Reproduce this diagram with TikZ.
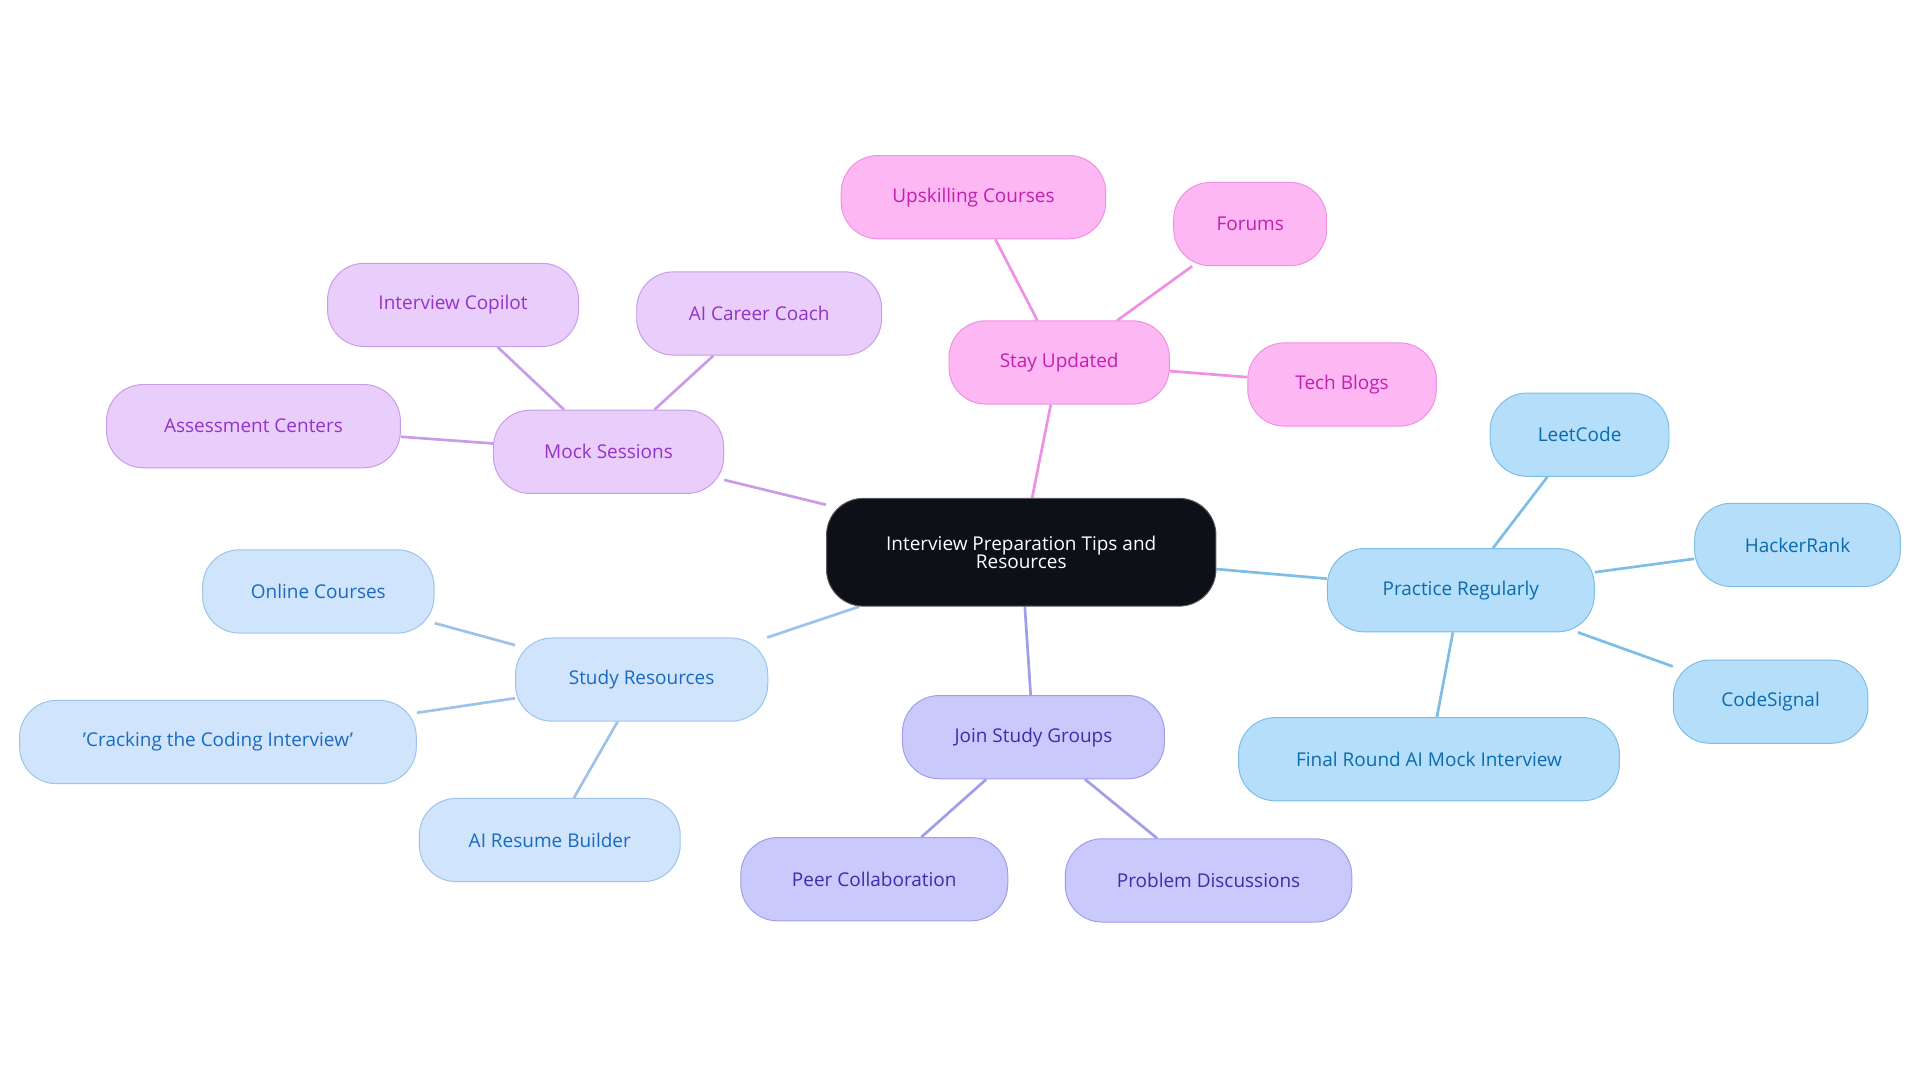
\documentclass[tikz,border=0pt]{standalone}
\usepackage{fontspec}
\setmainfont{Open Sans}
\usetikzlibrary{backgrounds}
\definecolor{pkF}{HTML}{FDB7F3}\definecolor{pkT}{HTML}{C21FB0}\definecolor{pkL}{HTML}{EE90E4}
\definecolor{puF}{HTML}{E9CDFA}\definecolor{puT}{HTML}{9333C9}\definecolor{puL}{HTML}{C99CE8}
\definecolor{blF}{HTML}{B5DEFA}\definecolor{blT}{HTML}{0A6BAF}\definecolor{blL}{HTML}{7DBDE6}
\definecolor{lbF}{HTML}{D0E4FB}\definecolor{lbT}{HTML}{1A6AC2}\definecolor{lbL}{HTML}{9EC3EA}
\definecolor{inF}{HTML}{C9C9FC}\definecolor{inT}{HTML}{3A2FAA}\definecolor{inL}{HTML}{9E9EEA}
\definecolor{ctr}{HTML}{0D1117}
\begin{document}
\begin{tikzpicture}[x=1pt,y=-1pt,
 box/.style={rounded corners=30pt,minimum height=68pt,inner sep=0pt,font=\fontsize{15.5}{18}\selectfont,line width=0.8pt},
 pk/.style={box,fill=pkF,draw=pkL,text=pkT},
 pu/.style={box,fill=puF,draw=puL,text=puT},
 bl/.style={box,fill=blF,draw=blL,text=blT},
 lb/.style={box,fill=lbF,draw=lbL,text=lbT},
 ig/.style={box,fill=inF,draw=inL,text=inT},
 e/.style={line width=2.2pt}]
\useasboundingbox (0,0) rectangle (1568,884);
\node[box,fill=ctr,draw=ctr!70,text=white,minimum width=318pt,minimum height=88pt,align=center] (c) at (834,451) {Interview Preparation Tips and\\[-3pt]Resources};
\node[pk,minimum width=180pt] (su) at (865,296) {Stay Updated};
\node[pk,minimum width=216pt] (uc) at (795,161) {Upskilling Courses};
\node[pk,minimum width=125pt] (fo) at (1021,183) {Forums};
\node[pk,minimum width=154pt] (tb) at (1096,314) {Tech Blogs};
\node[pu,minimum width=188pt] (ms) at (497,369) {Mock Sessions};
\node[pu,minimum width=205pt] (ic) at (370,249) {Interview Copilot};
\node[pu,minimum width=200pt] (ac) at (620,256) {AI Career Coach};
\node[pu,minimum width=240pt] (as) at (207,348) {Assessment Centers};
\node[bl,minimum width=218pt] (pr) at (1193,482) {Practice Regularly};
\node[bl,minimum width=146pt] (lc) at (1290,355) {LeetCode};
\node[bl,minimum width=168pt] (hr) at (1468,445) {HackerRank};
\node[bl,minimum width=159pt] (cs) at (1446,573) {CodeSignal};
\node[bl,minimum width=311pt] (fr) at (1167,620) {Final Round AI Mock Interview};
\node[lb,minimum width=206pt] (sr) at (524,555) {Study Resources};
\node[lb,minimum width=189pt] (oc) at (260,483) {Online Courses};
\node[lb,minimum width=324pt] (ci) at (178,606) {'Cracking the Coding Interview'};
\node[lb,minimum width=213pt] (rb) at (449,686) {AI Resume Builder};
\node[ig,minimum width=214pt] (jg) at (844,602) {Join Study Groups};
\node[ig,minimum width=218pt] (pc) at (714,718) {Peer Collaboration};
\node[ig,minimum width=234pt] (pd) at (987,719) {Problem Discussions};
\begin{scope}[on background layer]
\draw[e,pkL] (c)--(su) (su)--(uc) (su)--(fo) (su)--(tb);
\draw[e,puL] (c)--(ms) (ms)--(ic) (ms)--(ac) (ms)--(as);
\draw[e,blL] (c)--(pr) (pr)--(lc) (pr)--(hr) (pr)--(cs) (pr)--(fr);
\draw[e,lbL] (c)--(sr) (sr)--(oc) (sr)--(ci) (sr)--(rb);
\draw[e,inL] (c)--(jg) (jg)--(pc) (jg)--(pd);
\end{scope}
\end{tikzpicture}
\end{document}
